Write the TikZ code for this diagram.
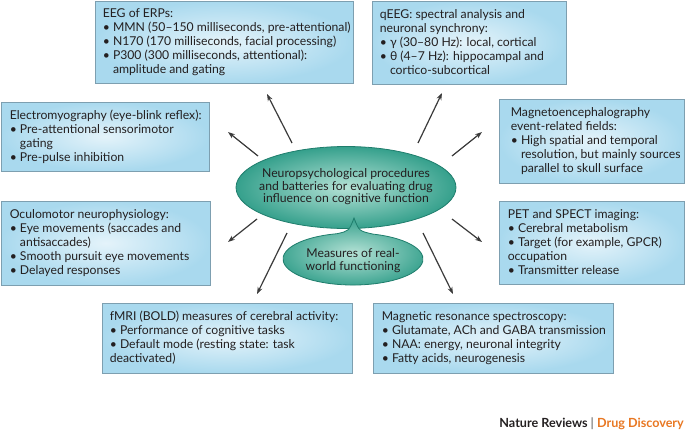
\documentclass[tikz,border=0pt]{standalone}
\usepackage{fontspec}
\setmainfont{Lato}
\newfontfamily\grk{Lato}
\usetikzlibrary{shapes.geometric,arrows.meta}
\definecolor{boxout}{HTML}{A9D9EE}
\definecolor{boxin}{HTML}{E4F3FA}
\definecolor{boxline}{HTML}{7D9FB0}
\definecolor{ellout}{HTML}{35A08C}
\definecolor{ellin}{HTML}{B5E2D6}
\definecolor{ellline}{HTML}{1F7D6C}
\definecolor{txtc}{HTML}{231F20}
\definecolor{arrc}{HTML}{3A3A3A}
\definecolor{ndorange}{HTML}{E87722}
\newcommand{\bl}{•\ }
\newcommand{\ind}{\hphantom{•\ }}
\begin{document}
\begin{tikzpicture}[x=1pt,y=-1pt,
  boxnode/.style={rectangle,draw=boxline,line width=0.8pt,inner color=boxin,outer color=boxout,inner sep=0pt},
  boxtext/.style={anchor=west,align=left,inner sep=0pt,text=txtc,font=\fontsize{12.2}{14}\selectfont},
  ellnode/.style={ellipse,draw=ellline,line width=0.8pt,inner color=ellin,outer color=ellout,inner sep=0pt},
  elltext/.style={align=center,inner sep=0pt,text=txtc,font=\fontsize{12.2}{12.5}\selectfont},
  arr/.style={draw=arrc,line width=1.2pt,-{Stealth[length=7pt,width=5pt]}}]
\useasboundingbox (0,0) rectangle (685,431);

% boxes
\node[boxnode,minimum width=258pt,minimum height=82pt] (eeg) at (224,42) {};
\node[boxtext] (eegT) at ([xshift=8pt]eeg.west) {EEG of ERPs:\\
\bl MMN (50–150 milliseconds, pre-attentional)\\
\bl N170 (170 milliseconds, facial processing)\\
\bl P300 (300 milliseconds, attentional):\\
\ind amplitude and gating};

\node[boxnode,minimum width=194pt,minimum height=83pt] (qeeg) at (469,42.5) {};
\node[boxtext] (qeegT) at ([xshift=8pt]qeeg.west) {qEEG: spectral analysis and\\
neuronal synchrony:\\
\bl {\grk γ} (30–80 Hz): local, cortical\\
\bl {\grk θ} (4–7 Hz): hippocampal and\\
\ind cortico-subcortical};

\node[boxnode,minimum width=208pt,minimum height=69pt] (emg) at (105,136.5) {};
\node[boxtext] (emgT) at ([xshift=9pt]emg.west) {Electromyography (eye-blink reflex):\\
\bl Pre-attentional sensorimotor\\
\ind gating\\
\bl Pre-pulse inhibition};

\node[boxnode,minimum width=185pt,minimum height=84pt] (meg) at (591.5,141) {};
\node[boxtext] (megT) at ([xshift=12pt]meg.west) {Magnetoencephalography\\
event-related fields:\\
\bl High spatial and temporal\\
\ind resolution, but mainly sources\\
\ind parallel to skull surface};

\node[boxnode,minimum width=209pt,minimum height=84pt] (ocu) at (105.5,243) {};
\node[boxtext] (ocuT) at ([xshift=9pt]ocu.west) {Oculomotor neurophysiology:\\
\bl Eye movements (saccades and\\
\ind antisaccades)\\
\bl Smooth pursuit eye movements\\
\bl Delayed responses};

\node[boxnode,minimum width=185pt,minimum height=83pt] (pet) at (591.5,242.5) {};
\node[boxtext] (petT) at ([xshift=9pt]pet.west) {PET and SPECT imaging:\\
\bl Cerebral metabolism\\
\bl Target (for example, GPCR)\\
occupation\\
\bl Transmitter release};

\node[boxnode,minimum width=250pt,minimum height=70pt] (fmri) at (227,338) {};
\node[boxtext] (fmriT) at ([xshift=8pt]fmri.west) {fMRI (BOLD) measures of cerebral activity:\\
\bl Performance of cognitive tasks\\
\bl Default mode (resting state: task\\
deactivated)};

\node[boxnode,minimum width=240pt,minimum height=70pt] (mrs) at (493,338) {};
\node[boxtext] (mrsT) at ([xshift=9pt]mrs.west) {Magnetic resonance spectroscopy:\\
\bl Glutamate, ACh and GABA transmission\\
\bl NAA: energy, neuronal integrity\\
\bl Fatty acids, neurogenesis};

% central ellipse
\node[ellnode,minimum width=220pt,minimum height=82pt] (main) at (346,187.5) {};
\node[elltext] (mainT) at (346,187) {Neuropsychological procedures\\and batteries for evaluating drug\\influence on cognitive function};

% real-world bubble
\path[draw=ellline,line width=0.8pt,inner color=ellin,outer color=ellout]
  (373,234.1) arc[start angle=-73.4,end angle=256.8,x radius=70,y radius=26]
  .. controls (349,231) .. (354,218) .. controls (359,231) .. (373,234.1) -- cycle;
\node[elltext,font=\fontsize{12.2}{13}\selectfont] (realT) at (353,260.5) {Measures of real-\\world functioning};

% arrows
\coordinate (a1s) at (292,143); \coordinate (a1e) at (267,94);
\coordinate (a2s) at (258,156); \coordinate (a2e) at (228,132);
\coordinate (a3s) at (418,143); \coordinate (a3e) at (442,93);
\coordinate (a4s) at (452,156); \coordinate (a4e) at (482,132);
\coordinate (a5s) at (257,219); \coordinate (a5e) at (228,242);
\coordinate (a6s) at (287,233); \coordinate (a6e) at (257,294);
\coordinate (a7s) at (452,219); \coordinate (a7e) at (482,242);
\coordinate (a8s) at (423,233); \coordinate (a8e) at (453,294);
\foreach \i in {1,...,8} {\draw[arr] (a\i s) -- (a\i e);}

% footer
\node[anchor=base east,inner sep=0pt,font=\fontsize{12.6}{13}\selectfont\bfseries] (foot) at (684,427)
  {\textcolor{txtc}{Nature Reviews} \textcolor{gray}{|} \textcolor{ndorange}{Drug Discovery}};
\end{tikzpicture}
\end{document}
